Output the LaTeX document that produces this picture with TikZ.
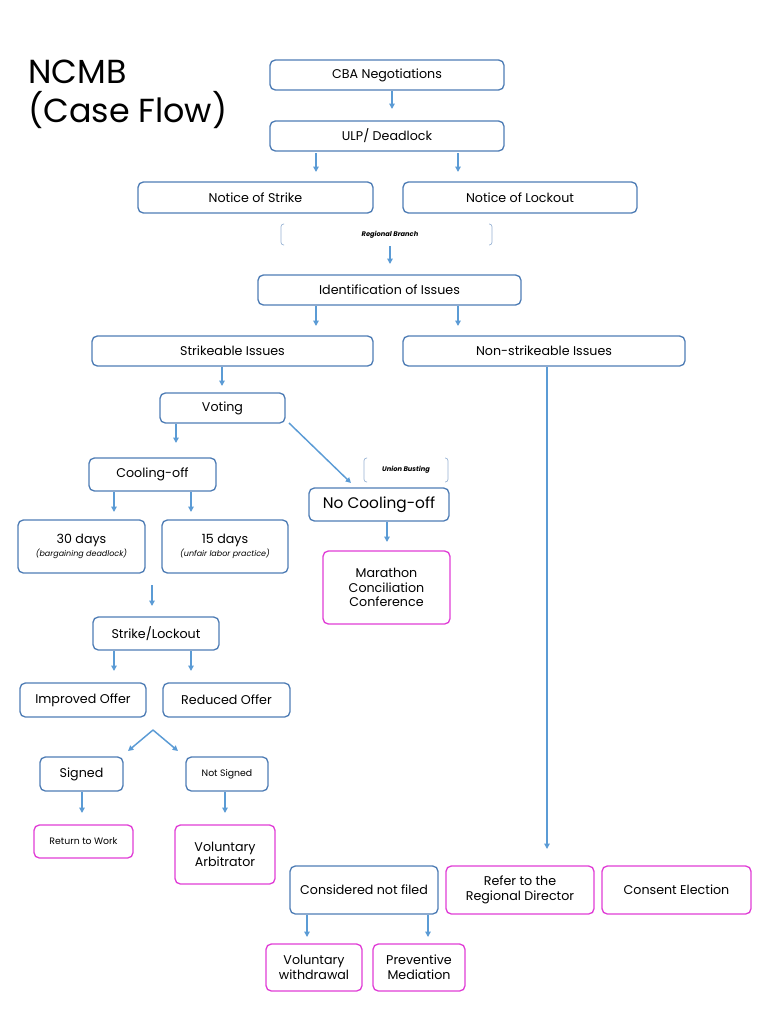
\documentclass[tikz,border=0pt]{standalone}
\usepackage{fontspec}
\setmainfont{Poppins}
\usetikzlibrary{arrows.meta,calc}
\definecolor{bbord}{HTML}{4F7DB5}
\definecolor{mbord}{HTML}{E03ED6}
\definecolor{arr}{HTML}{5B9BD5}
\begin{document}
\begin{tikzpicture}[x=0.75pt,y=-0.75pt,
  box/.style={draw=bbord,line width=1pt,rounded corners=4pt,inner sep=1pt,align=center,font=\fontsize{9.5}{11}\selectfont},
  mbox/.style={box,draw=mbord},
  ar/.style={draw=arr,line width=1.1pt,-{Triangle[length=4pt,width=4pt]}},
  small/.style={font=\fontsize{5}{6}\selectfont\itshape\bfseries},
  brk/.style={draw=bbord!60,line width=0.5pt,rounded corners=2pt}]
\useasboundingbox (0,0) rectangle (768,1024);
% title
\node[anchor=north west,align=left,font=\fontsize{25}{29}\selectfont,inner sep=0] (title) at (28,60) {NCMB\\(Case Flow)};
\newcommand{\bx}[7]{\node[#1,minimum width=#5*0.75pt,minimum height=#6*0.75pt] (#2) at (#3,#4) {#7};}
\bx{box}{cba}{387}{75}{234}{30}{CBA Negotiations}
\bx{box}{ulp}{387}{136}{234}{30}{ULP/ Deadlock}
\bx{box}{nos}{255.5}{197.5}{235}{31}{Notice of Strike}
\bx{box}{nol}{520}{197.5}{234}{31}{Notice of Lockout}
\node[small] (reg) at (390,235) {Regional Branch};
\bx{box}{iden}{389.5}{290}{263}{30}{Identification of Issues}
\bx{box}{si}{232.5}{351}{281}{30}{Strikeable Issues}
\bx{box}{nsi}{544}{351}{282}{30}{Non-strikeable Issues}
\bx{box}{vot}{222.5}{408}{125}{30}{Voting}
\bx{box}{cool}{152.5}{474.5}{127}{33}{Cooling-off}
\bx{box}{d30}{81.5}{546.5}{127}{53}{30 days\\[-1pt]{\fontsize{6}{7}\selectfont\itshape (bargaining deadlock)}}
\bx{box}{d15}{225}{546.5}{126}{53}{15 days\\[-1pt]{\fontsize{6}{7}\selectfont\itshape (unfair labor practice)}}
\node[small] (ub) at (406,470) {Union Busting};
\bx{box}{nco}{379}{504.5}{140}{33}{\fontsize{11.5}{13}\selectfont No Cooling-off}
\bx{mbox}{mar}{386.5}{587.5}{127}{73}{Marathon\\Conciliation\\Conference}
\bx{box}{sl}{156}{633.5}{126}{33}{Strike/Lockout}
\bx{box}{imp}{83}{700}{126}{34}{Improved Offer}
\bx{box}{red}{226.5}{700}{127}{34}{Reduced Offer}
\bx{box}{sig}{81.5}{774}{83}{34}{Signed}
\bx{box}{nsg}{227}{774}{82}{34}{\fontsize{7}{8}\selectfont Not Signed}
\bx{mbox}{rtw}{83.5}{841.5}{99}{33}{\fontsize{7}{8}\selectfont Return to Work}
\bx{mbox}{va}{225}{854.5}{100}{59}{Voluntary\\Arbitrator}
\bx{box}{cnf}{364}{890}{148}{48}{Considered not filed}
\bx{mbox}{ref}{520}{890}{148}{48}{Refer to the\\Regional Director}
\bx{mbox}{ce}{676.5}{890}{149}{48}{Consent Election}
\bx{mbox}{vw}{314}{967.5}{96}{47}{Voluntary\\withdrawal}
\bx{mbox}{pm}{419}{967.5}{92}{47}{Preventive\\Mediation}
% brackets
\draw[brk] (284,224) -- (281,224) -- (281,245) -- (284,245);
\draw[brk] (489,224) -- (492,224) -- (492,245) -- (489,245);
\draw[brk] (367,458) -- (364,458) -- (364,482) -- (367,482);
\draw[brk] (445,458) -- (448,458) -- (448,482) -- (445,482);
% arrows
\newcommand{\ar}[4]{\draw[ar] (#1,#2) -- (#3,#4);}
\ar{392}{91}{392}{109}
\ar{316}{153}{316}{172}
\ar{458}{153}{458}{172}
\ar{390}{246}{390}{264}
\ar{316}{306}{316}{326}
\ar{458}{306}{458}{326}
\ar{222}{367}{222}{386}
\ar{176}{424}{176}{443}
\ar{289}{423}{351}{483}
\ar{114}{492}{114}{512}
\ar{191}{492}{191}{512}
\ar{152}{585}{152}{606}
\ar{114}{651}{114}{671}
\ar{191}{651}{191}{671}
\coordinate (apex) at (153,730);
\draw[ar] (apex) -- (128,751);
\draw[ar] (apex) -- (178,751);
\ar{82}{792}{82}{813}
\ar{225}{792}{225}{813}
\ar{387}{522}{387}{542}
\ar{547}{367}{547}{849}
\ar{307}{915}{307}{937}
\ar{428}{915}{428}{937}
\end{tikzpicture}
\end{document}
